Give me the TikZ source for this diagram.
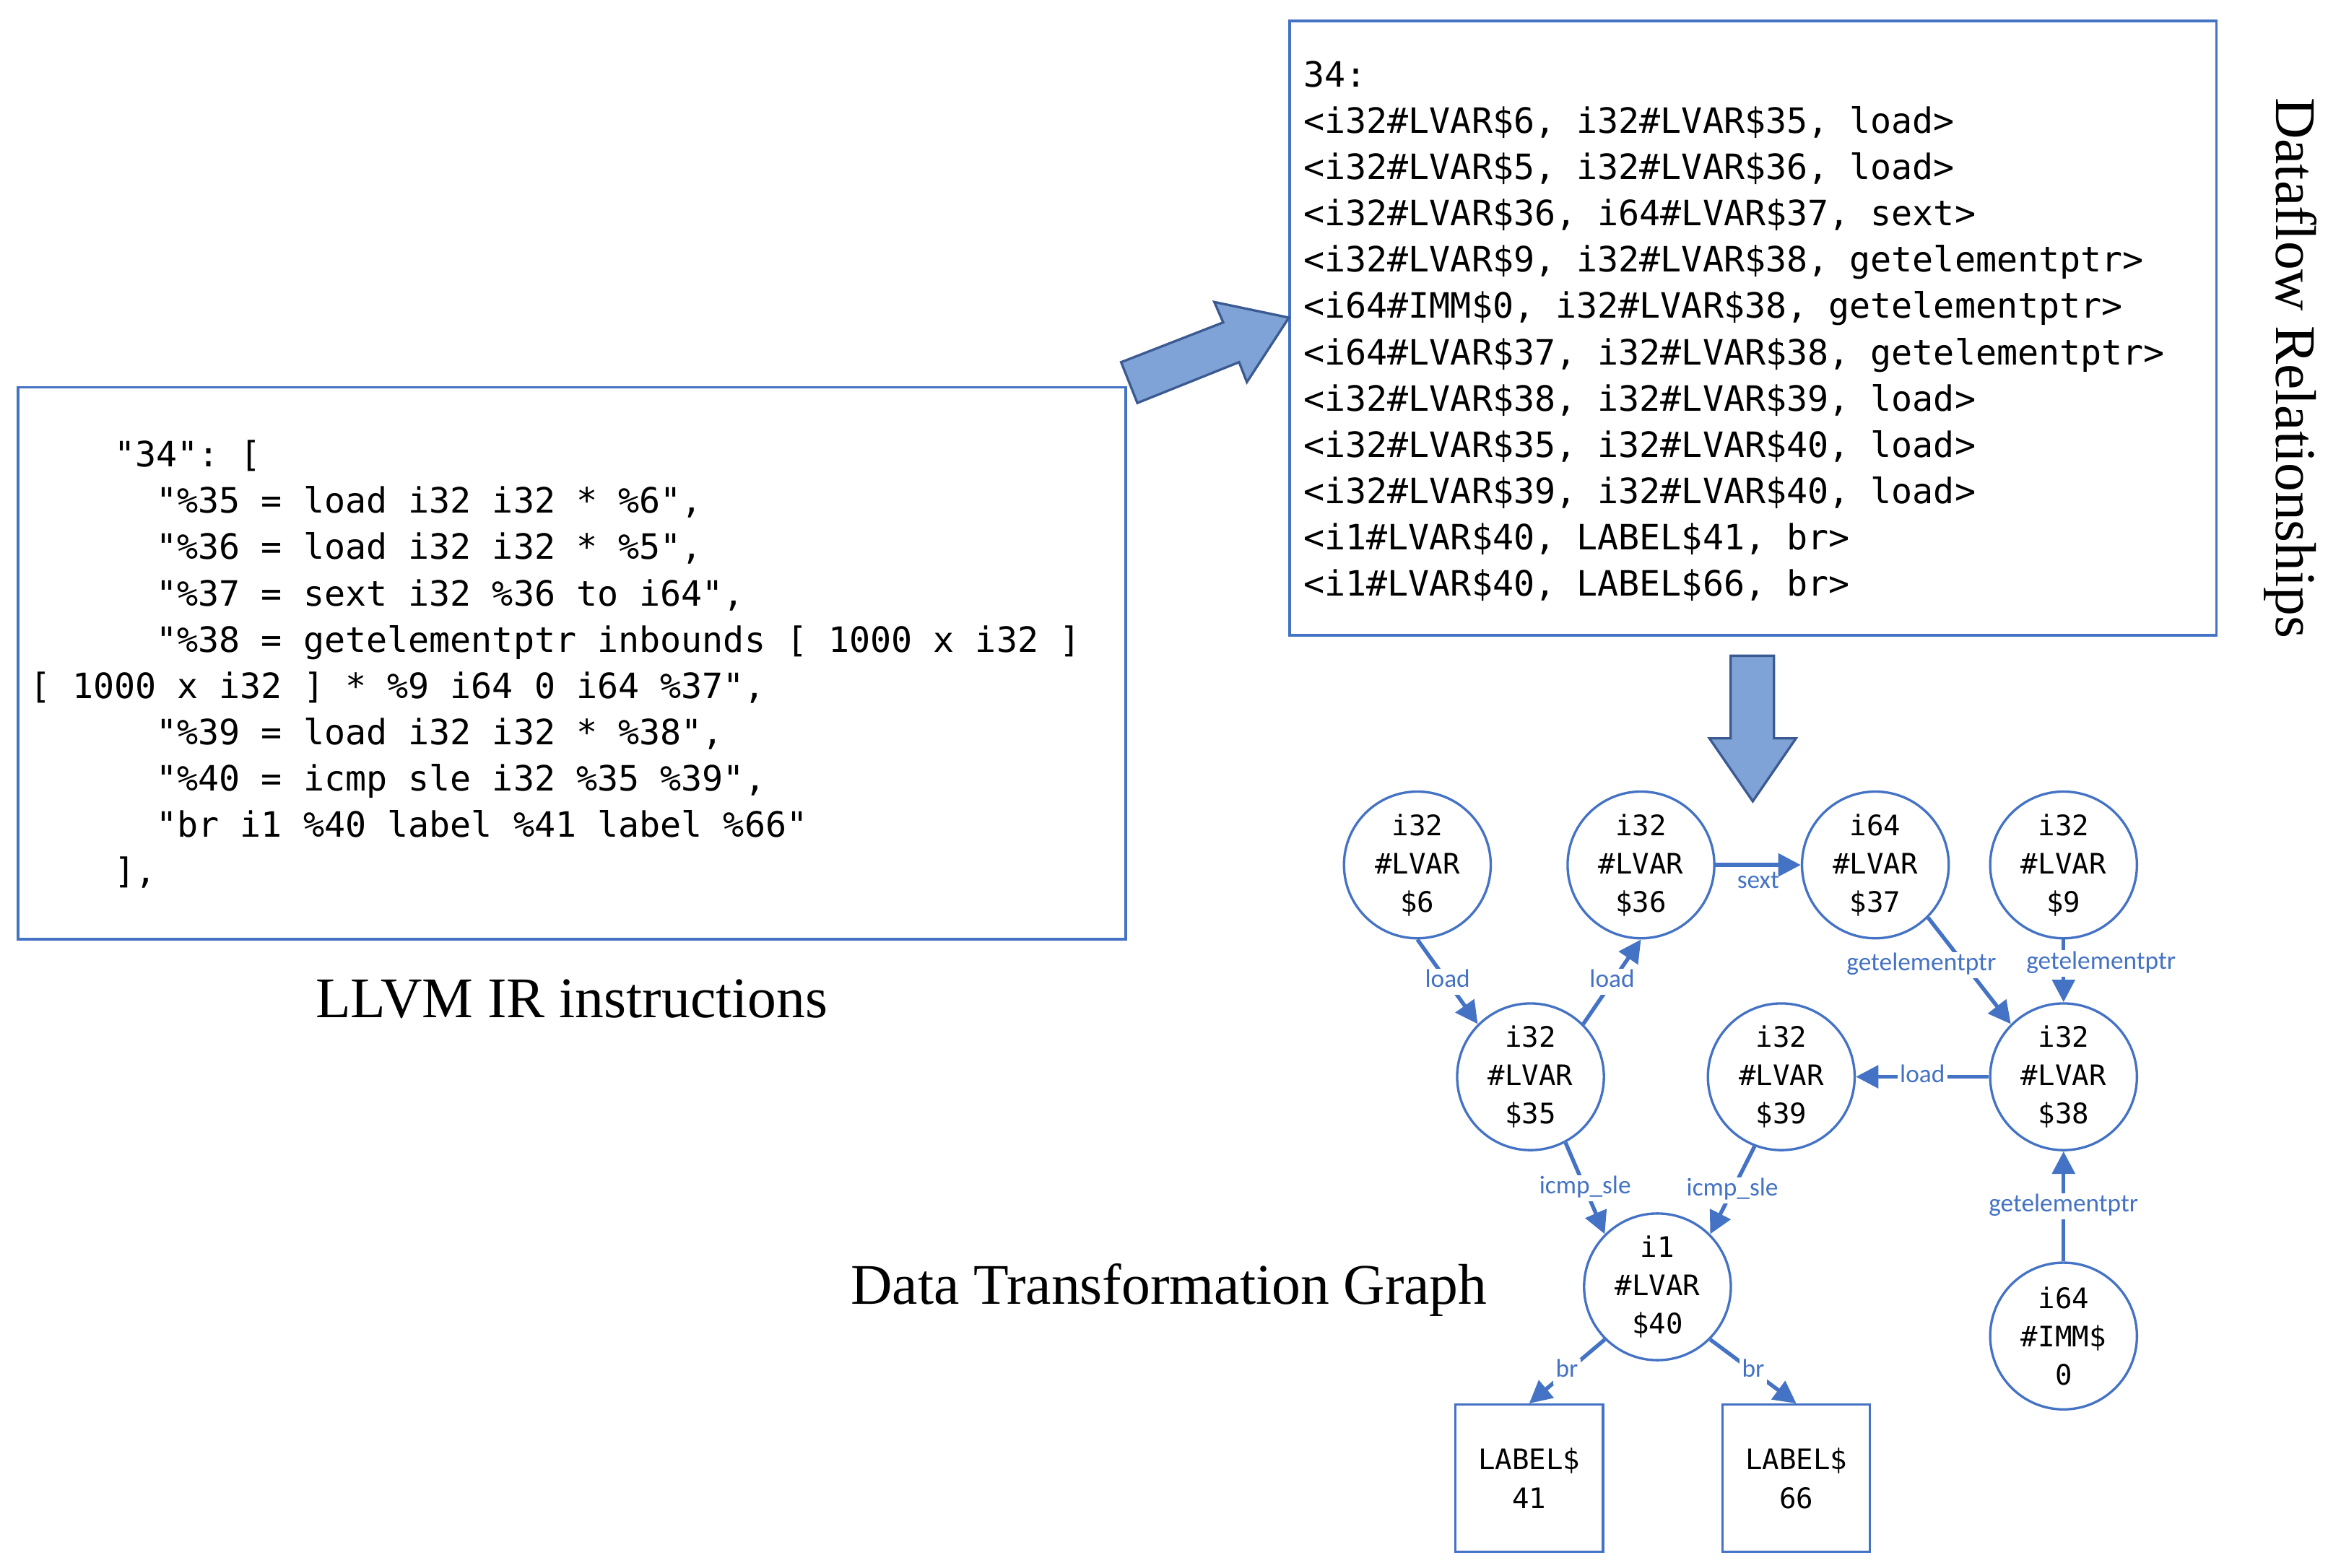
\documentclass[tikz,border=0pt]{standalone}
\usepackage{fontspec}
\setmainfont{Liberation Serif}
\setmonofont{DejaVu Sans Mono}
\newfontfamily\lblfont{Carlito}
\usetikzlibrary{arrows.meta}
\definecolor{obl}{HTML}{4472C4}
\definecolor{afill}{RGB}{127,163,214}
\definecolor{aline}{RGB}{60,90,146}
\begin{document}
\begin{tikzpicture}[x=1pt,y=-1pt,
  codetxt/.style={font=\fontsize{23.25}{30.85}\selectfont\ttfamily, anchor=base west, inner sep=0pt},
  panel/.style={draw=obl, line width=1.7pt, inner sep=0pt},
  vnode/.style={circle, draw=obl, line width=1.6pt, minimum size=97.8pt, inner sep=0pt, align=center, font=\fontsize{18.8}{25.5}\selectfont\ttfamily},
  lnode/.style={rectangle, draw=obl, line width=1.6pt, minimum width=98.3pt, minimum height=97.9pt, inner sep=0pt, align=center, font=\fontsize{18.8}{26}\selectfont\ttfamily},
  edge/.style={draw=obl, line width=2.6pt, -{Triangle[length=15pt,width=15pt]}},
  lbl/.style={font=\fontsize{17}{17}\selectfont\lblfont, text=obl, fill=white, inner sep=1.5pt, text height=11pt, text depth=3.5pt},
  captxt/.style={font=\fontsize{38.3}{40}\selectfont, anchor=base, inner sep=0pt},
  blockarrow/.style={fill=afill, draw=aline, line width=1.6pt, line join=miter}
]
\useasboundingbox (0,0) rectangle (1560,1045.1);

% ---- left panel: LLVM IR ----
\node[panel, minimum width=738.2pt, minimum height=367.7pt] (irbox) at (381.1,442.05) {};
\node[codetxt] (ir0) at (76,311.2)    {"34": [};
\node[codetxt] (ir1) at (104,342.05)  {"\%35 = load i32 i32 * \%6",};
\node[codetxt] (ir2) at (104,372.9)   {"\%36 = load i32 i32 * \%5",};
\node[codetxt] (ir3) at (104,403.75)  {"\%37 = sext i32 \%36 to i64",};
\node[codetxt] (ir4) at (104,434.6)   {"\%38 = getelementptr inbounds [ 1000 x i32 ]};
\node[codetxt] (ir5) at (20,465.45)   {[ 1000 x i32 ] * \%9 i64 0 i64 \%37",};
\node[codetxt] (ir6) at (104,496.3)   {"\%39 = load i32 i32 * \%38",};
\node[codetxt] (ir7) at (104,527.15)  {"\%40 = icmp sle i32 \%35 \%39",};
\node[codetxt] (ir8) at (104,558.0)   {"br i1 \%40 label \%41 label \%66"};
\node[codetxt] (ir9) at (76,588.85)   {],};
\node[captxt] (capir) at (381,678.4) {LLVM IR instructions};

% ---- right panel: dataflow relationships ----
\node[panel, minimum width=617.6pt, minimum height=409.6pt] (dfbox) at (1168.2,218.7) {};
\node[codetxt] (df0)  at (868.5,57.9)   {34:};
\node[codetxt] (df1)  at (868.5,88.75)  {<i32\#LVAR\$6, i32\#LVAR\$35, load>};
\node[codetxt] (df2)  at (868.5,119.6)  {<i32\#LVAR\$5, i32\#LVAR\$36, load>};
\node[codetxt] (df3)  at (868.5,150.45) {<i32\#LVAR\$36, i64\#LVAR\$37, sext>};
\node[codetxt] (df4)  at (868.5,181.3)  {<i32\#LVAR\$9, i32\#LVAR\$38, getelementptr>};
\node[codetxt] (df5)  at (868.5,212.15) {<i64\#IMM\$0, i32\#LVAR\$38, getelementptr>};
\node[codetxt] (df6)  at (868.5,243.0)  {<i64\#LVAR\$37, i32\#LVAR\$38, getelementptr>};
\node[codetxt] (df7)  at (868.5,273.85) {<i32\#LVAR\$38, i32\#LVAR\$39, load>};
\node[codetxt] (df8)  at (868.5,304.7)  {<i32\#LVAR\$35, i32\#LVAR\$40, load>};
\node[codetxt] (df9)  at (868.5,335.55) {<i32\#LVAR\$39, i32\#LVAR\$40, load>};
\node[codetxt] (df10) at (868.5,366.4)  {<i1\#LVAR\$40, LABEL\$41, br>};
\node[codetxt] (df11) at (868.5,397.25) {<i1\#LVAR\$40, LABEL\$66, br>};
\node[captxt, rotate=-90] (capdf) at (1517,245.3) {Dataflow Relationships};

% ---- block arrows ----
\draw[blockarrow] (757.9,268.6) -- (747.1,241.4) -- (815.1,214.9) -- (809.2,201.3)
  -- (858.9,211.7) -- (830.9,254.7) -- (825.7,241.4) -- cycle;
\draw[blockarrow] (1153.3,437.1) -- (1182.1,437.1) -- (1182.1,492.1) -- (1196.8,492.1)
  -- (1168,534.1) -- (1139.1,492.1) -- (1153.3,492.1) -- cycle;

% ---- graph ----
\node[vnode] (n6)   at (944.5,576.5)  {i32\\\#LVAR\\\$6};
\node[vnode] (n36)  at (1093.5,576.5) {i32\\\#LVAR\\\$36};
\node[vnode] (n37)  at (1249.7,576.5) {i64\\\#LVAR\\\$37};
\node[vnode] (n9)   at (1375.1,576.5) {i32\\\#LVAR\\\$9};
\node[vnode] (n35)  at (1019.9,717.7) {i32\\\#LVAR\\\$35};
\node[vnode] (n39)  at (1187.0,717.7) {i32\\\#LVAR\\\$39};
\node[vnode] (n38)  at (1375.1,717.7) {i32\\\#LVAR\\\$38};
\node[vnode] (n40)  at (1104.5,857.7) {i1\\\#LVAR\\\$40};
\node[vnode] (imm0) at (1375.1,890.5) {i64\\\#IMM\$\\0};
\node[lnode] (L41)  at (1019,985.2)   {LABEL\$\\41};
\node[lnode] (L66)  at (1197,985.2)   {LABEL\$\\66};

\node[captxt] (capdtg) at (779,869.4) {Data Transformation Graph};

\draw[edge] (n6.south) -- node[lbl]{load} (n35.north west);
\draw[edge] (n35.north east) -- node[lbl]{load} (n36.south);
\draw[edge] (n36.east) -- node[lbl, fill=none, yshift=-12pt]{sext} (n37.west);
\draw[edge] (n37.south east) -- node[lbl, pos=0.445, xshift=-29pt]{getelementptr} (n38.north west);
\draw[edge] (n9.south) -- node[lbl, pos=0.38, xshift=25pt]{getelementptr} (n38.north);
\draw[edge] (n38.west) -- node[lbl]{load} (n39.east);
\draw[edge] (imm0.north) -- node[lbl]{getelementptr} (n38.south);
\draw[edge] (n35.-62) -- node[lbl]{icmp\_sle} (n40.north west);
\draw[edge] (n39.-111) -- node[lbl]{icmp\_sle} (n40.north east);
\draw[edge] (n40.south west) -- node[lbl]{br} (L41.north);
\draw[edge] (n40.south east) -- node[lbl]{br} (L66.north);
\end{tikzpicture}
\end{document}
